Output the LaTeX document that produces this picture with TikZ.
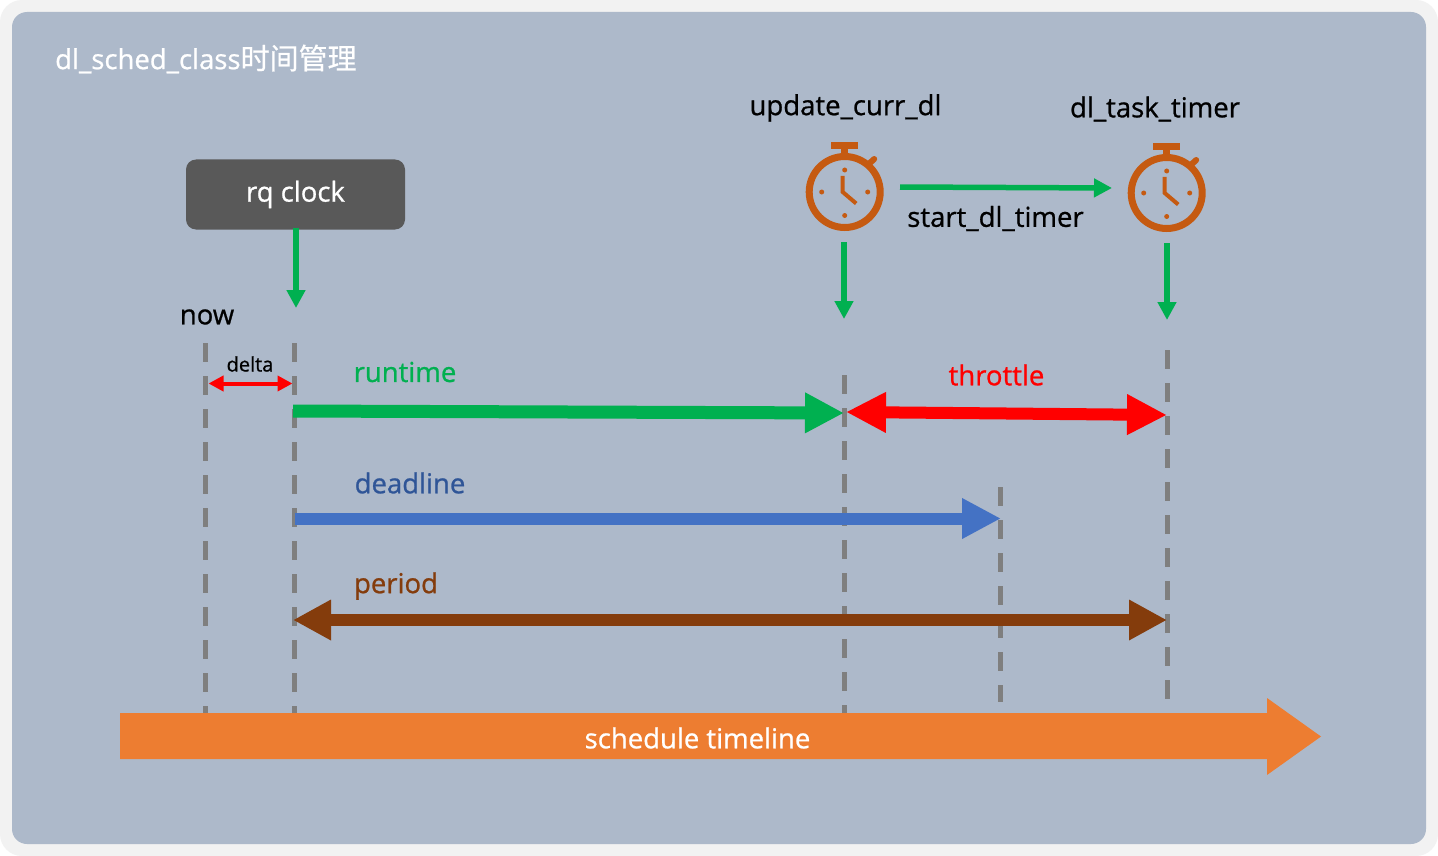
\documentclass[tikz,border=0pt]{standalone}
\usepackage{fontspec}
\setmainfont{Open Sans}[FakeBold=0.8]
\newfontfamily\cjkf{Noto Sans CJK SC}[FakeBold=0.5]
\usetikzlibrary{arrows.meta}
\definecolor{bgouter}{HTML}{F2F2F2}
\definecolor{bginner}{HTML}{ADB9CA}
\definecolor{boxgrey}{HTML}{595959}
\definecolor{dashgrey}{HTML}{7F7F7F}
\definecolor{cgreen}{HTML}{00B050}
\definecolor{cblue}{HTML}{4472C4}
\definecolor{cbluet}{HTML}{2F5597}
\definecolor{cbrown}{HTML}{843C0C}
\definecolor{corange}{HTML}{ED7D31}
\definecolor{cclock}{HTML}{C55A11}
\newcommand{\fsz}[1]{\fontsize{#1}{#1}\selectfont}
\tikzset{
  lbl/.style={inner sep=0pt,font=\fsz{27.5}},
  guide/.style={draw=dashgrey,line width=5pt,dash pattern=on 19pt off 14pt},
  thin arrow/.style={draw=cgreen,fill=cgreen,line width=5.5pt,-{Triangle[length=18pt,width=18pt]}},
  clock/.pic={
    \draw[cclock,line width=7pt] (0,0) circle[radius=35.5pt];
    \fill[cclock] (-14,-50) rectangle (13.5,-43);
    \fill[cclock] (-3.5,-43) rectangle (3.5,-36);
    \draw[cclock,line width=6pt,line cap=round] (23,-27) -- (29.5,-33);
    \foreach \p/\q in {0/-22,0/23.5,-23/0,23/0}{\fill[cclock] (\p,\q) circle[radius=2.5pt];}
    \draw[cclock,line width=4pt] (-2,-16) -- (-2,0) -- (11.5,11.5);
  }
}
\begin{document}
\begin{tikzpicture}[x=1pt,y=-1pt]
\useasboundingbox (0,0) rectangle (1438,856);
\fill[white] (0,0) rectangle (1438,856);
\fill[bgouter,rounded corners=22pt] (0,0) rectangle (1438,856);
\fill[bginner,rounded corners=15pt] (12,12) rectangle (1426,844);

\node[lbl,anchor=west,text=white] (title) at (55,59) {dl\_sched\_class{\cjkf\fsz{29}时间管理}};

% guide lines
\coordinate (g1a) at (205.5,343); \coordinate (g1b) at (205.5,713);
\coordinate (g2a) at (294.5,343); \coordinate (g2b) at (294.5,713);
\coordinate (g3a) at (844.3,375); \coordinate (g3b) at (844.3,713);
\coordinate (g4a) at (1000.5,487); \coordinate (g4b) at (1000.5,702);
\coordinate (g5a) at (1167.3,350); \coordinate (g5b) at (1167.3,713);
\foreach \g in {1,...,5}{\draw[guide] (g\g a) -- (g\g b);}

% rq clock
\node[rounded corners=10pt,fill=boxgrey,minimum width=219pt,minimum height=70pt,inner sep=0pt,text=white,font=\fsz{27.5}] (rq) at (295.5,194.5) {rq clock};
\coordinate (rqend) at (296,308);
\draw[thin arrow] (296,228) -- (rqend);
\node[lbl] (now) at (207,317) {now};

% clocks
\pic (ca) at (844.7,192) {clock};
\pic (cb) at (1166.7,193) {clock};
\node[lbl] (ua) at (845.5,108) {update\_curr\_dl};
\node[lbl] (ub) at (1155,109) {dl\_task\_timer};
\node[lbl] (st) at (995.5,218.5) {start\_dl\_timer};
\coordinate (sa) at (900,187); \coordinate (sb) at (1112,188);
\draw[thin arrow] (sa) -- (sb);
\coordinate (da1) at (844,242); \coordinate (da2) at (844,319);
\coordinate (db1) at (1167,243); \coordinate (db2) at (1167,320);
\draw[thin arrow] (da1) -- (da2);
\draw[thin arrow] (db1) -- (db2);

% delta
\node[inner sep=0pt,font=\fsz{20}] (delta) at (250,364) {delta};
\coordinate (de1) at (208.5,383.5); \coordinate (de2) at (292.5,383.5);
\draw[red,line width=4pt,{Triangle[length=15pt,width=15pt]}-{Triangle[length=15pt,width=15pt]}] (de1) -- (de2);

% runtime
\node[lbl,text=cgreen] (rt) at (405,372) {runtime};
\coordinate (r1) at (293,411); \coordinate (r2) at (844,413);
\draw[cgreen,line width=13pt,-{Triangle[length=39pt,width=38pt]}] (r1) -- (r2);

% throttle
\node[lbl,text=red] (th) at (996.5,375) {throttle};
\coordinate (t1) at (846,412); \coordinate (t2) at (1167,415);
\draw[red,line width=12pt,{Triangle[length=40pt,width=38pt]}-{Triangle[length=40pt,width=38pt]}] (t1) -- (t2);

% deadline
\node[lbl,text=cbluet] (dl) at (410,483) {deadline};
\coordinate (d1) at (294.5,518.5); \coordinate (d2) at (1001,518.5);
\draw[cblue,line width=12pt,-{Triangle[length=39pt,width=38pt]}] (d1) -- (d2);

% period
\node[lbl,text=cbrown] (pe) at (396,586) {period};
\coordinate (p1) at (293,620); \coordinate (p2) at (1167,620);
\draw[cbrown,line width=12pt,{Triangle[length=38pt,width=38pt]}-{Triangle[length=38pt,width=38pt]}] (p1) -- (p2);

% timeline
\fill[corange] (120,713) -- (1267,713) -- (1267,698) -- (1321,736.5) -- (1267,775) -- (1267,759) -- (120,759) -- cycle;
\node[lbl,text=white] (tl) at (697.5,738) {schedule timeline};
\end{tikzpicture}
\end{document}
